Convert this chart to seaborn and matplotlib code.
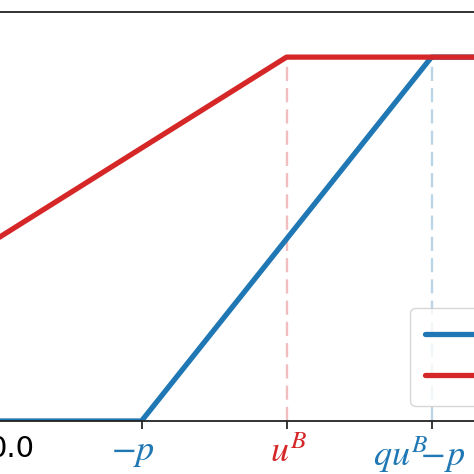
import numpy as np
import pandas as pd
import matplotlib
matplotlib.use("Agg")
import matplotlib.pyplot as plt
import seaborn as sns

# breakpoints (arbitrary x units)
tick_pos = [0.0, 0.9, 1.9, 2.9]
tick_labels = ["0.0", r"$-p$", r"$u^B$", r"$qu^B\!\!\!-\!p$"]
tick_colors = ["black", "#1f77b4", "#d62728", "#1f77b4"]
tick_sizes = [21, 26, 26, 26]
tick_shift_pt = [0, -6.5, 1.4, -8.6]

blue_x = [-0.2, 0.9, 2.9, 3.5]
blue_y = [0.0, 0.0, 1.0, 1.0]
red_x = [-0.2, 1.9, 3.5]
red_y = [0.475, 1.0, 1.0]

series_names = [r"$A$", r"$B$"]
colors = ["#1f77b4", "#d62728"]

df = pd.concat([
    pd.DataFrame({"x": blue_x, "y": blue_y, "s": series_names[0]}),
    pd.DataFrame({"x": red_x, "y": red_y, "s": series_names[1]}),
])

sns.set_style("ticks")
plt.rcParams["mathtext.fontset"] = "stix"
plt.rcParams["font.family"] = ["DejaVu Sans"]

fig = plt.figure(figsize=(4.74, 4.74), dpi=100)
W = 474.0
# axes run past the left/right edges of the figure (cropped look)
x0_px, ppu = 11.0, 145.0
xmin, xmax = -0.2, 3.5
left = (x0_px + xmin * ppu) / W
width = (xmax - xmin) * ppu / W
ax = fig.add_axes([left, 53 / W, width, 409 / W])

sns.lineplot(data=df, x="x", y="y", hue="s", palette=colors, linewidth=3.8,
             sort=False, estimator=None, ax=ax)

ax.axvline(tick_pos[2], ymax=1.0 / 1.124, color=colors[1], ls=(0, (6, 3)), lw=1.7, alpha=0.3, zorder=0)
ax.axvline(tick_pos[3], ymax=1.0 / 1.124, color=colors[0], ls=(0, (6, 3)), lw=1.7, alpha=0.3, zorder=0)

ax.set_xlim(xmin, xmax)
ax.set_ylim(0, 1.124)
ax.set_xticks(tick_pos)
ax.set_xticklabels([])
# tick labels drawn by hand so each can sit a little off its tick, as in the figure
for pos, lab, c, fs, dx in zip(tick_pos, tick_labels, tick_colors, tick_sizes, tick_shift_pt):
    ax.annotate(lab, xy=(pos, 0), xycoords=("data", "axes fraction"),
                xytext=(dx, -10), textcoords="offset points",
                ha="center", va="top", color=c, fontsize=fs, annotation_clip=False)
ax.xaxis.get_major_ticks()[0].tick1line.set_visible(False)
ax.set_yticks([])
ax.tick_params(axis="x", length=6, width=1.3, pad=4)
for sp in ax.spines.values():
    sp.set_linewidth(1.3)
    sp.set_color("#222222")
ax.set_xlabel("")
ax.set_ylabel("")

ax.legend(loc="lower left", bbox_to_anchor=(0.798, 0.037), borderaxespad=0,
          fontsize=21, labelspacing=0.45, borderpad=0.5, frameon=True)

fig.savefig("out.png", dpi=100)
